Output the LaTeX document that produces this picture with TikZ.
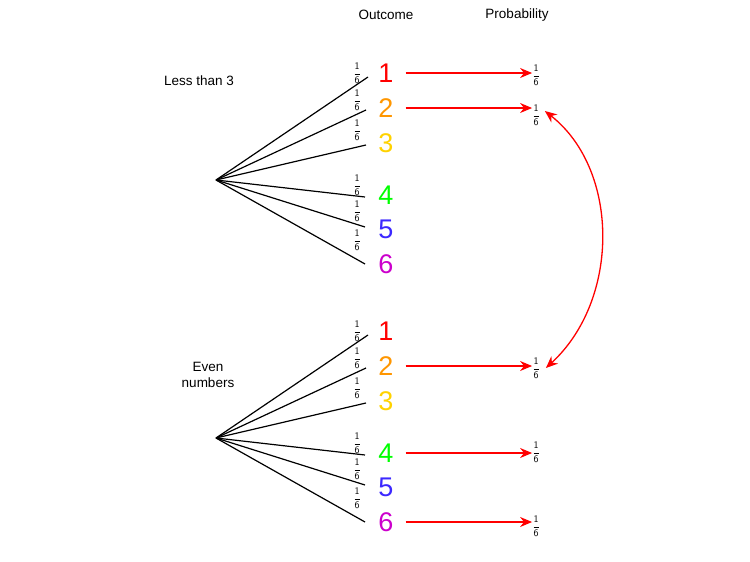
\documentclass[tikz,border=0pt]{standalone}
\usepackage{fontspec}
\setmainfont{Liberation Sans}
\usetikzlibrary{arrows.meta,calc}
\definecolor{cyel}{RGB}{255,210,0}
\definecolor{cmag}{RGB}{204,0,204}
\definecolor{cblu}{RGB}{60,40,255}
\definecolor{corg}{RGB}{255,150,0}
\begin{document}
\begin{tikzpicture}[x=1pt,y=-1pt,
  br/.style={black,line width=1.2pt},
  num/.style={font=\fontsize{27}{27}\selectfont,inner sep=0pt},
  fr/.style={font=\fontsize{10}{10}\selectfont,inner sep=0pt},
  arr/.style={red,line width=1.3pt,-{Stealth[length=12pt,width=10pt]}},
  lab/.style={font=\fontsize{13.5}{16}\selectfont,align=center}]
\useasboundingbox (0,0) rectangle (750,562);
\node[lab] (ho) at (386,15) {Outcome};
\node[lab] (hp) at (517,15) {Probability};
\node[lab] (l3) at (199,81) {Less than 3};
\node[lab] (ev) at (208,375) {Even\\numbers};
\foreach \t/\dy in {A/0,B/258}{
  \coordinate (\t r) at (216,180+\dy);
  \foreach \i/\c/\ny/\ex/\ey/\fy in {1/red/73/368/77/73, 2/corg/108/366/110/100, 3/cyel/143/366/145/130, 4/green/195/365/197/185, 5/cblu/229/365/227/211, 6/cmag/264/365/264/240}{
    \coordinate (\t e\i) at (\ex,\ey+\dy);
    \node[num,text=\c] (\t n\i) at (386,\ny+\dy) {\i};
    \node[fr] (\t f\i) at (357,\fy+\dy) {$\displaystyle\frac{\mathsf{1}}{\mathsf{6}}$};
    \draw[br] (\t r) -- (\t e\i);
  }
}
\foreach \n/\y in {p1/75,p2/115,p3/368,p4/452,p5/526}{
  \node[fr] (\n) at (536,\y) {$\displaystyle\frac{\mathsf{1}}{\mathsf{6}}$};
}
\coordinate (s1) at ($(An1.east)+(12,0)$);
\coordinate (s2) at ($(An2.east)+(12,0)$);
\coordinate (s3) at ($(Bn2.east)+(12,0)$);
\coordinate (s4) at ($(Bn4.east)+(12,0)$);
\coordinate (s5) at ($(Bn6.east)+(12,0)$);
\draw[arr] (s1) -- (s1 -| p1.west);
\draw[arr] (s2) -- (s2 -| p2.west);
\draw[arr] (s3) -- (s3 -| p3.west);
\draw[arr] (s4) -- (s4 -| p4.west);
\draw[arr] (s5) -- (s5 -| p5.west);
\coordinate (ct) at ($(p2.east)+(5,-4)$);
\coordinate (cb) at ($(p3.east)+(6,0)$);
\draw[red,line width=1.3pt,{Stealth[length=12pt,width=10pt]}-{Stealth[length=12pt,width=10pt]}] (ct) .. controls (620,170) and (620,300) .. (cb);
\end{tikzpicture}
\end{document}
